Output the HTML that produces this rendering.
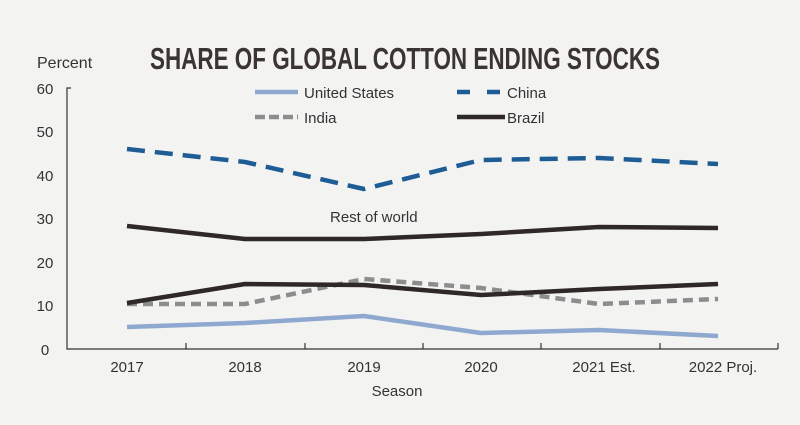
<!DOCTYPE html>
<html><head><style>
body{margin:0;background:#f3f3f1;}
svg{display:block;font-family:"Liberation Sans Narrow","Liberation Sans",sans-serif;}
</style></head><body>
<svg width="800" height="425" viewBox="0 0 800 425">
<rect width="800" height="425" fill="#f3f3f1"/>
<text x="150" y="69" font-size="31" font-weight="bold" fill="#3a3434" textLength="510" lengthAdjust="spacingAndGlyphs">SHARE OF GLOBAL COTTON ENDING STOCKS</text>
<text x="37" y="68" font-size="16" fill="#333">Percent</text>
<g font-size="15" fill="#333" text-anchor="middle">
<text x="45" y="94">60</text><text x="45" y="137">50</text><text x="45" y="181">40</text>
<text x="45" y="224">30</text><text x="45" y="268">20</text><text x="45" y="311">10</text><text x="45" y="355">0</text>
<text x="127" y="372">2017</text><text x="245" y="372">2018</text><text x="364" y="372">2019</text>
<text x="481" y="372">2020</text><text x="604" y="372">2021 Est.</text><text x="723" y="372">2022 Proj.</text>
<text x="397" y="396">Season</text>
</g>
<g stroke="#333" stroke-width="1.2" fill="none">
<path d="M71 88H67V349H778"/>
<path d="M186 349v-6M305 349v-6M423 349v-6M541 349v-6M660 349v-6M778 349v-6"/>
</g>
<g fill="none" stroke-width="4.5" stroke-linejoin="round">
<polyline stroke="#8fa8d0" points="127,327 245,323 364,316 481,333 599,330 718,336"/>
<polyline stroke="#1d5c94" stroke-dasharray="18,10" points="127,149 245,162 364,189 481,160 599,158 718,164"/>
<polyline stroke="#8d8d8d" stroke-dasharray="10,6" points="127,304 245,304 364,279 481,288 599,304 718,299"/>
<polyline stroke="#2e2828" points="127,303 245,284 364,285 481,295 599,289 718,284"/>
<polyline stroke="#2e2828" points="127,226 245,239 364,239 481,234 599,227 718,228"/>
<line x1="255" y1="92" x2="298" y2="92" stroke="#8fa8d0"/>
<line x1="457" y1="92" x2="505" y2="92" stroke="#1d5c94" stroke-dasharray="13,17"/>
<line x1="255" y1="117" x2="298" y2="117" stroke="#8d8d8d" stroke-dasharray="10,4"/>
<line x1="457" y1="117" x2="505" y2="117" stroke="#2e2828"/>
</g>
<g font-size="15" fill="#333">
<text x="304" y="98">United States</text><text x="507" y="98">China</text>
<text x="304" y="123">India</text><text x="507" y="123">Brazil</text>
<text x="330" y="222">Rest of world</text>
</g>
</svg>
</body></html>
